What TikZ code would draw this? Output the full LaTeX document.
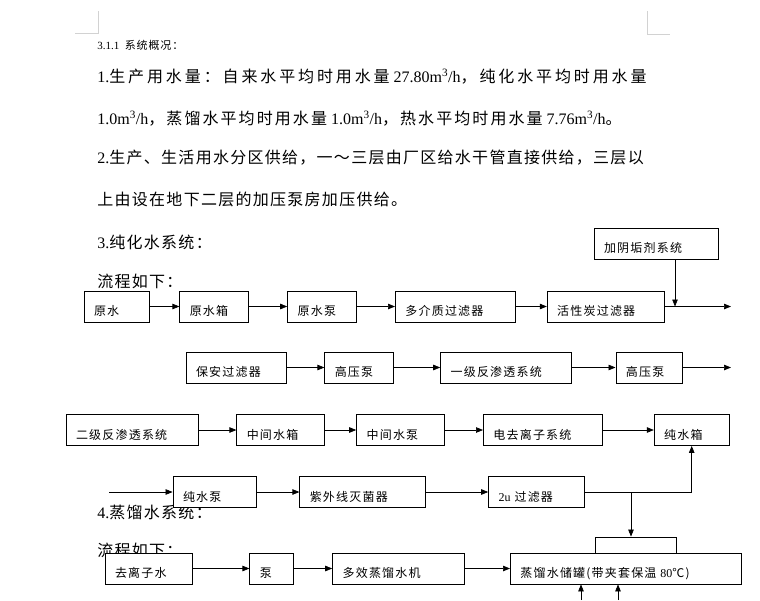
\documentclass[tikz,border=0pt]{standalone}
\usepackage{fontspec}
\setmainfont{Liberation Serif}
\newfontfamily\cjk{Noto Sans CJK SC}[LetterSpace=8]
\newfontfamily\cjkmid{Noto Sans CJK SC}[LetterSpace=13]
\newfontfamily\cjkwide{Noto Sans CJK SC}[LetterSpace=18]
\newfontfamily\boxcjk{Noto Sans CJK SC}[LetterSpace=10]
\newcommand\zh[1]{{\cjk #1}}
\newcommand\zhm[1]{{\cjkmid #1}}
\newcommand\zhw[1]{{\cjkwide #1}}
\usetikzlibrary{positioning,arrows.meta}

\begin{document}
\begin{tikzpicture}[
  x=1pt, y=-1pt,
  line width=0.7pt,
  box/.style={draw, fill=white, line width=0.8pt, minimum height=31pt,
              inner xsep=10pt, inner ysep=0pt, text height=18pt, text depth=0pt,
              align=left, font=\fontsize{12}{14}\boxcjk},
  arr/.style={-{Triangle[length=7pt,width=5.5pt]}},
  txt/.style={anchor=west, inner sep=0pt, font=\fontsize{16}{19}\selectfont},
  small/.style={anchor=west, inner sep=0pt, font=\fontsize{11}{13}\selectfont},
  crop/.style={draw=gray!35, line width=0.8pt}
]
\path[fill=white, use as bounding box] (0,0) rectangle (760,600);

% ---------------- page corners ----------------
\draw[crop] (75,33) -- (98,33) -- (98,11);
\draw[crop] (647,11) -- (647,34) -- (670,34);

% ---------------- running text ----------------
\node[small] (head) at (97,45.5) {3.1.1\enspace{\fontsize{11}{13}\cjk 系统概况：}};
\node[txt] (para1a) at (97,77)
  {1.\zhw{生产用水量：自来水平均时用水量} 27.80m\textsuperscript{3}/h\zhw{，纯化水平均时用水量}};
\node[txt] (para1b) at (97,119)
  {1.0m\textsuperscript{3}/h\zhm{，蒸馏水平均时用水量} 1.0m\textsuperscript{3}/h\zhm{，热水平均时用水量} 7.76m\textsuperscript{3}/h\zhm{。}};
\node[txt] (para2a) at (97,158)
  {2.\zh{生产、生活用水分区供给，一～三层由厂区给水干管直接供给，三层以}};
\node[txt] (para2b) at (97,199) {\zh{上由设在地下二层的加压泵房加压供给。}};
\node[txt] (para3) at (97,242) {3.\zh{纯化水系统：}};
\node[txt] (flow3) at (97,281) {\zh{流程如下：}};
\node[txt] (para4) at (97,512) {4.\zh{蒸馏水系统：}};
\node[txt] (flow4) at (97,550) {\zh{流程如下：}};

% ---------------- pure water, row 1 ----------------
\node[box, text width=45pt] (raw) at (116.5,306.5) {原水};
\node[box, text width=49pt, right=30pt of raw] (rawtank) {原水箱};
\node[box, text width=49pt, right=38pt of rawtank] (rawpump) {原水泵};
\node[box, text width=100pt, right=38pt of rawpump] (mmf) {多介质过滤器};
\node[box, text width=97pt, right=31pt of mmf] (acf) {活性炭过滤器};
\node[box, text width=104pt] (dosing) at (656,243.5) {加阴垢剂系统};
\coordinate (dosin) at (675,306.5);
\coordinate (out1) at (731,306.5);

% ---------------- pure water, row 2 ----------------
\node[box, text width=80pt] (guard) at (236,367.5) {保安过滤器};
\node[box, text width=49pt, right=38pt of guard] (hpp1) {高压泵};
\node[box, text width=111pt, right=46pt of hpp1] (ro1) {一级反渗透系统};
\node[box, text width=46.5pt, right=43.5pt of ro1] (hpp2) {高压泵};
\coordinate (out2) at (731,367.5);

% ---------------- pure water, row 3 ----------------
\node[box, text width=112pt] (ro2) at (132,430) {二级反渗透系统};
\node[box, text width=68pt, right=38pt of ro2] (midtank) {中间水箱};
\node[box, text width=68pt, right=31pt of midtank] (midpump) {中间水泵};
\node[box, text width=99pt, right=38pt of midpump] (edi) {电去离子系统};
\node[box, text width=55pt, right=51pt of edi] (puretank) {纯水箱};

% ---------------- pure water, row 4 ----------------
\coordinate (in4) at (109,492);
\node[box, text width=63pt] (purepump) at (214.5,492) {纯水泵};
\node[box, text width=106pt, right=43pt of purepump] (uv) {紫外线灭菌器};
\node[box, text width=76pt, right=62pt of uv] (filt) {{\rmfamily 2u} 过滤器};
\coordinate (split) at (631,492);

% ---------------- distilled water, row 5 ----------------
\node[box, text width=61pt] (dbox) at (635.5,552.5) {};
\node[box, text width=67pt] (diw) at (148.5,568.5) {去离子水};
\node[box, text width=24pt, right=57pt of diw] (dpump) {泵};
\node[box, text width=112pt, right=38pt of dpump] (still) {多效蒸馏水机};
\node[box, text width=211pt, right=45pt of still] (dtank) {蒸馏水储罐(带夹套保温 {\rmfamily 80}℃)};
\coordinate (up1) at (581,600);
\coordinate (up2) at (618,600);

% ---------------- arrows ----------------
\draw[arr] (raw) -- (rawtank);
\draw[arr] (rawtank) -- (rawpump);
\draw[arr] (rawpump) -- (mmf);
\draw[arr] (mmf) -- (acf);
\draw[arr] (acf) -- (out1);
\draw[arr] (dosing.south -| dosin) -- (dosin);
\draw[arr] (guard) -- (hpp1);
\draw[arr] (hpp1) -- (ro1);
\draw[arr] (ro1) -- (hpp2);
\draw[arr] (hpp2) -- (out2);
\draw[arr] (ro2) -- (midtank);
\draw[arr] (midtank) -- (midpump);
\draw[arr] (midpump) -- (edi);
\draw[arr] (edi) -- (puretank);
\draw[arr] (in4) -- (purepump);
\draw[arr] (purepump) -- (uv);
\draw[arr] (uv) -- (filt);
\draw[arr] (filt.east) -| (puretank.south);
\draw[arr] (split) -- (split |- dbox.north);
\draw[arr] (diw) -- (dpump);
\draw[arr] (dpump) -- (still);
\draw[arr] (still) -- (dtank);
\draw[arr] (up1) -- (up1 |- dtank.south);
\draw[arr] (up2) -- (up2 |- dtank.south);

\end{tikzpicture}
\end{document}
